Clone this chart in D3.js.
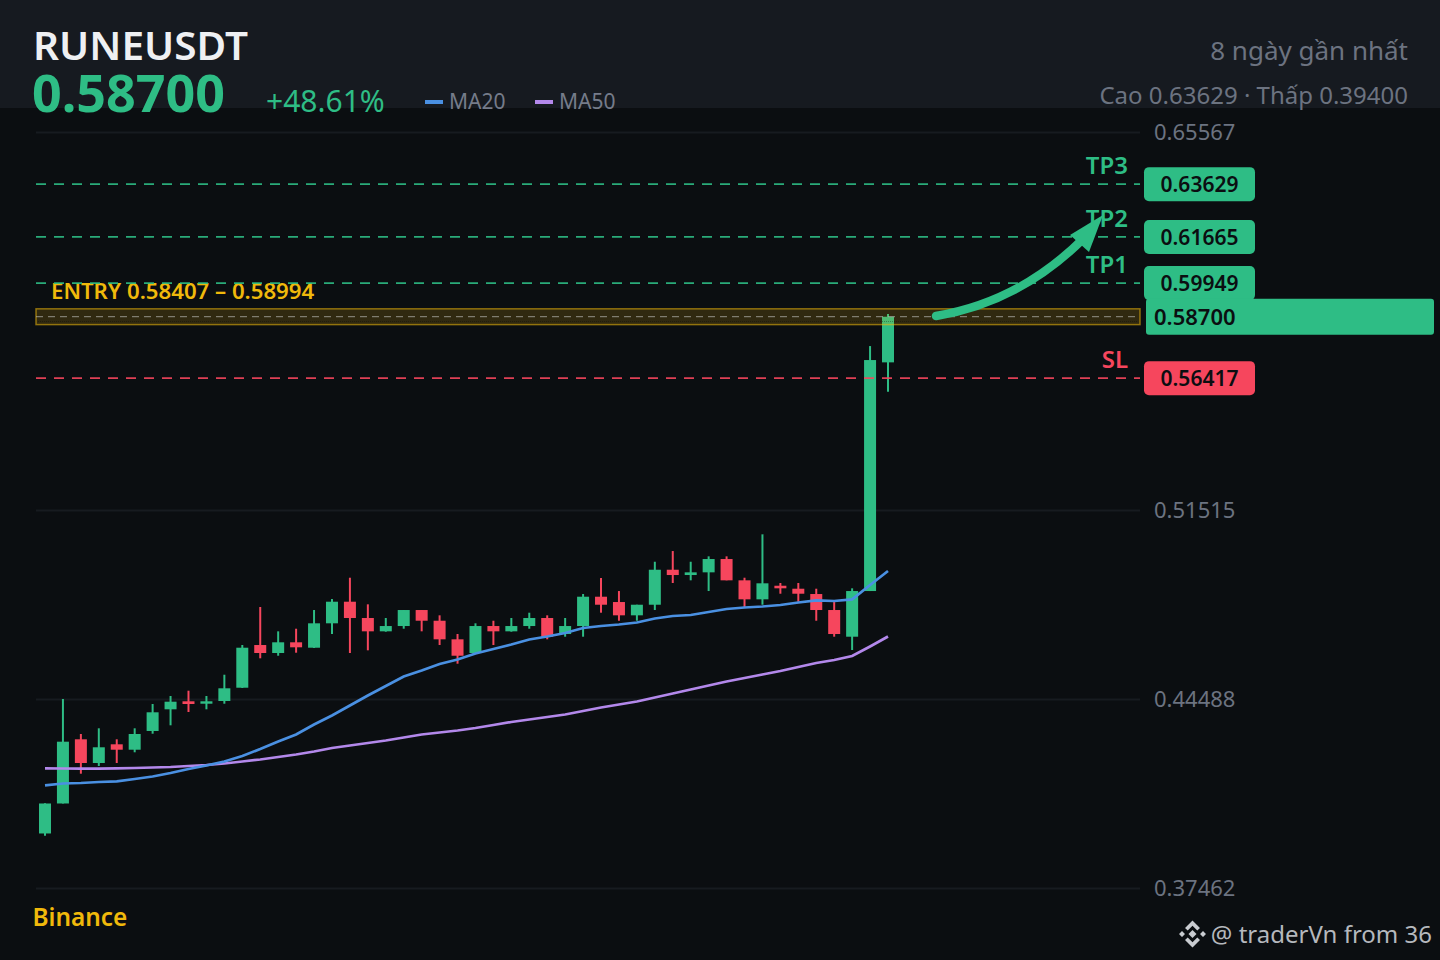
<!DOCTYPE html>
<html>
<head>
<meta charset="utf-8">
<script src="https://cdn.jsdelivr.net/npm/d3@7"></script>
<style>
  html, body { margin: 0; padding: 0; background: #0b0e11; }
  svg { display: block; }
  text { font-family: "Noto Sans", sans-serif; }
</style>
</head>
<body>
<svg id="chart" width="1440" height="960"></svg>
<script>
// candles
const opens = [0.39489,0.40604,0.42990,0.42109,0.42804,0.42603,0.43299,0.44105,0.44403,0.44313,0.44414,0.44908,0.46495,0.46198,0.46596,0.46395,0.47302,0.48105,0.47499,0.47004,0.47201,0.47796,0.47398,0.46707,0.46198,0.47201,0.47004,0.47201,0.47499,0.46904,0.47201,0.48291,0.48093,0.47599,0.47993,0.49294,0.49097,0.49197,0.49692,0.48900,0.48194,0.48699,0.48588,0.48391,0.47796,0.46804,0.48502,0.57003];
const closes = [0.40604,0.42901,0.42109,0.42693,0.42603,0.43187,0.43994,0.44388,0.44302,0.44403,0.44886,0.46395,0.46198,0.46596,0.46410,0.47302,0.48105,0.47499,0.47004,0.47201,0.47796,0.47398,0.46707,0.46097,0.47201,0.47004,0.47201,0.47499,0.46804,0.47201,0.48291,0.47993,0.47599,0.47993,0.49294,0.49097,0.49197,0.49692,0.48900,0.48194,0.48789,0.48603,0.48402,0.47796,0.46904,0.48502,0.57089,0.58700];
const highs = [0.40611,0.44488,0.43187,0.43399,0.42990,0.43399,0.44302,0.44600,0.44797,0.44600,0.45391,0.46495,0.47908,0.47004,0.47101,0.47796,0.48205,0.48997,0.48008,0.47499,0.47796,0.47796,0.47599,0.46904,0.47302,0.47398,0.47499,0.47696,0.47599,0.47499,0.48391,0.48986,0.48502,0.47993,0.49591,0.49989,0.49591,0.49792,0.49792,0.48997,0.50610,0.48800,0.48800,0.48588,0.48093,0.48603,0.57609,0.58798];
const lows = [0.39407,0.40604,0.41711,0.41998,0.42109,0.42507,0.43198,0.43510,0.44005,0.44105,0.44313,0.44897,0.46001,0.46097,0.46209,0.46384,0.46904,0.46198,0.46298,0.46990,0.47101,0.47004,0.46495,0.45800,0.46198,0.46495,0.46990,0.47101,0.46707,0.46804,0.46804,0.47696,0.47398,0.47398,0.47796,0.48800,0.48900,0.48502,0.48900,0.47897,0.47993,0.48402,0.48105,0.47398,0.46804,0.46309,0.48502,0.55910];
const ma20 = [0.41280,0.41347,0.41366,0.41403,0.41429,0.41514,0.41607,0.41737,0.41886,0.42016,0.42165,0.42369,0.42629,0.42908,0.43168,0.43540,0.43875,0.44246,0.44618,0.44971,0.45324,0.45547,0.45789,0.45956,0.46179,0.46347,0.46514,0.46700,0.46811,0.46941,0.47127,0.47201,0.47257,0.47332,0.47480,0.47573,0.47610,0.47722,0.47833,0.47889,0.47926,0.47982,0.48075,0.48157,0.48131,0.48194,0.48725,0.49246];
const ma50 = [0.41912,0.41905,0.41897,0.41901,0.41912,0.41923,0.41942,0.41960,0.41998,0.42035,0.42091,0.42165,0.42239,0.42332,0.42425,0.42537,0.42667,0.42760,0.42853,0.42945,0.43057,0.43168,0.43243,0.43317,0.43410,0.43522,0.43633,0.43726,0.43819,0.43912,0.44042,0.44172,0.44284,0.44395,0.44544,0.44692,0.44841,0.44990,0.45138,0.45269,0.45399,0.45529,0.45677,0.45826,0.45938,0.46086,0.46439,0.46811];

const yTicks = [0.65567, 0.51515, 0.44488, 0.37462];
const levelNames = ["TP3", "TP2", "TP1", "SL"];
const levelPrices = [0.63629, 0.61665, 0.59949, 0.56417];
const entryLow = 0.58407, entryHigh = 0.58994, lastPrice = 0.58700;

const green = "#2ebd85", red = "#f6465d", yellow = "#f0b90b", blue = "#4a90e2", purple = "#b388eb";

const svg = d3.select("#chart");
const width = 1440, height = 960;

const x = d3.scalePoint().domain(d3.range(opens.length)).range([45, 888]);
const y = d3.scaleLinear().domain([yTicks[3], yTicks[0]]).range([888, 132]);

svg.append("rect").attr("width", width).attr("height", height).attr("fill", "#0b0e11");
svg.append("rect").attr("width", width).attr("height", 108).attr("fill", "#161a20");

// grid + price axis
const axis = svg.append("g")
  .attr("transform", "translate(1140,0)")
  .call(d3.axisRight(y).tickValues(yTicks).tickFormat(d3.format(".5f")).tickSize(-1104).tickPadding(14));
axis.select(".domain").remove();
axis.selectAll("line").attr("stroke", "#171b20").attr("stroke-width", 2);
axis.selectAll("text").attr("fill", "#6c7380").attr("font-size", 22);

// candles
const candles = svg.append("g").selectAll("g").data(d3.range(opens.length)).join("g");
const colorOf = i => closes[i] >= opens[i] ? green : red;
candles.append("line")
  .attr("x1", i => x(i)).attr("x2", i => x(i))
  .attr("y1", i => y(highs[i])).attr("y2", i => y(lows[i]))
  .attr("stroke", colorOf).attr("stroke-width", 2);
candles.append("rect")
  .attr("x", i => x(i) - 6).attr("width", 12)
  .attr("y", i => y(Math.max(opens[i], closes[i])))
  .attr("height", i => Math.max(1.5, Math.abs(y(opens[i]) - y(closes[i]))))
  .attr("fill", colorOf);

// moving averages
const line = d3.line().x((d, i) => x(i)).y(d => y(d));
svg.append("path").attr("d", line(ma50)).attr("fill", "none").attr("stroke", purple).attr("stroke-width", 2.7);
svg.append("path").attr("d", line(ma20)).attr("fill", "none").attr("stroke", blue).attr("stroke-width", 2.7);

// entry zone
svg.append("rect")
  .attr("x", 36).attr("width", 1104)
  .attr("y", y(entryHigh)).attr("height", y(entryLow) - y(entryHigh))
  .attr("fill", yellow).attr("fill-opacity", 0.16)
  .attr("stroke", yellow).attr("stroke-opacity", 0.55).attr("stroke-width", 1.5);
svg.append("line")
  .attr("x1", 36).attr("x2", 1140).attr("y1", y(lastPrice)).attr("y2", y(lastPrice))
  .attr("stroke", "#b5b5b0").attr("stroke-opacity", 0.6).attr("stroke-width", 1.2).attr("stroke-dasharray", "7,5");
svg.append("line")
  .attr("x1", 38).attr("x2", 1138).attr("y1", 321.5).attr("y2", 321.5)
  .attr("stroke", "#000").attr("stroke-opacity", 0.3).attr("stroke-width", 1).attr("stroke-dasharray", "1,1");
svg.append("text").attr("x", 51).attr("y", 299).attr("fill", yellow)
  .attr("font-size", 22.2).attr("font-weight", 600).text(`ENTRY ${entryLow.toFixed(5)} – ${entryHigh.toFixed(5)}`);

// TP / SL levels
const labelY = [174, 227, 273, 368];
levelNames.forEach((name, i) => {
  const c = name === "SL" ? red : green;
  const py = y(levelPrices[i]);
  svg.append("line").attr("x1", 36).attr("x2", 1140).attr("y1", py).attr("y2", py)
    .attr("stroke", c).attr("stroke-opacity", 0.9).attr("stroke-width", 1.8).attr("stroke-dasharray", "10,8");
  svg.append("text").attr("x", 1128).attr("y", labelY[i]).attr("text-anchor", "end")
    .attr("fill", c).attr("font-size", 24).attr("font-weight", 600).text(name);
  svg.append("rect").attr("x", 1144).attr("y", py - 17).attr("width", 111).attr("height", 34).attr("rx", 5).attr("fill", c);
  svg.append("text").attr("x", 1199.5).attr("y", py + 8).attr("text-anchor", "middle")
    .attr("fill", "#0b0e11").attr("font-size", 21).attr("font-weight", 600).text(levelPrices[i].toFixed(5));
});

// last price tag
svg.append("rect").attr("x", 1146).attr("y", y(lastPrice) - 18).attr("width", 288).attr("height", 36).attr("rx", 3).attr("fill", green);
svg.append("text").attr("x", 1154).attr("y", y(lastPrice) + 8).attr("fill", "#0b0e11")
  .attr("font-size", 22).attr("font-weight", 600).text(lastPrice.toFixed(5));

// arrow
svg.append("path").attr("d", "M936,316 Q1020,302 1084,238")
  .attr("fill", "none").attr("stroke", green).attr("stroke-width", 8.5).attr("stroke-linecap", "round");
svg.append("path").attr("d", "M1103,215 L1070,235 L1089,252 Z").attr("fill", green);

// header
svg.append("text").attr("x", 33).attr("y", 60).attr("fill", "#eef0f3").attr("font-size", 40.5).attr("font-weight", 600).text("RUNEUSDT");
svg.append("text").attr("x", 32).attr("y", 112).attr("fill", green).attr("font-size", 52).attr("font-weight", 700).text(lastPrice.toFixed(5));
svg.append("text").attr("x", 266).attr("y", 112).attr("fill", green).attr("font-size", 30).text("+48.61%");

[["MA20", blue, 425], ["MA50", purple, 535]].forEach(([label, c, lx]) => {
  svg.append("rect").attr("x", lx).attr("y", 100).attr("width", 18).attr("height", 4).attr("fill", c);
  svg.append("text").attr("x", lx + 24).attr("y", 109).attr("fill", "#757c8a").attr("font-size", 21).text(label);
});

svg.append("text").attr("x", 1408).attr("y", 60).attr("text-anchor", "end").attr("fill", "#6c7380").attr("font-size", 26).text("8 ngày gần nhất");
svg.append("text").attr("x", 1408).attr("y", 104).attr("text-anchor", "end").attr("fill", "#6c7380").attr("font-size", 24).text("Cao 0.63629 · Thấp 0.39400");

// footer
svg.append("text").attr("x", 32.5).attr("y", 926).attr("fill", yellow).attr("font-size", 24.4).attr("font-weight", 600).text("Binance");
svg.append("text").attr("x", 1432).attr("y", 943).attr("text-anchor", "end").attr("fill", "#b5b8bd").attr("font-size", 24).text("@ traderVn from 36");

// binance logo
const logo = svg.append("g").attr("transform", "translate(1192.5,934)").attr("fill", "#c9ccd1");
logo.append("path").attr("d", "M0,-4 L4,0 L0,4 L-4,0 Z");
logo.append("path").attr("d", "M-13.5,0 L-10.5,-3 L-7.5,0 L-10.5,3 Z M13.5,0 L10.5,-3 L7.5,0 L10.5,3 Z");
logo.append("path").attr("d", "M0,-13.5 L7.5,-6 L4.8,-3.5 L0,-8.2 L-4.8,-3.5 L-7.5,-6 Z");
logo.append("path").attr("d", "M0,13.5 L7.5,6 L4.8,3.5 L0,8.2 L-4.8,3.5 L-7.5,6 Z");
</script>
</body>
</html>
